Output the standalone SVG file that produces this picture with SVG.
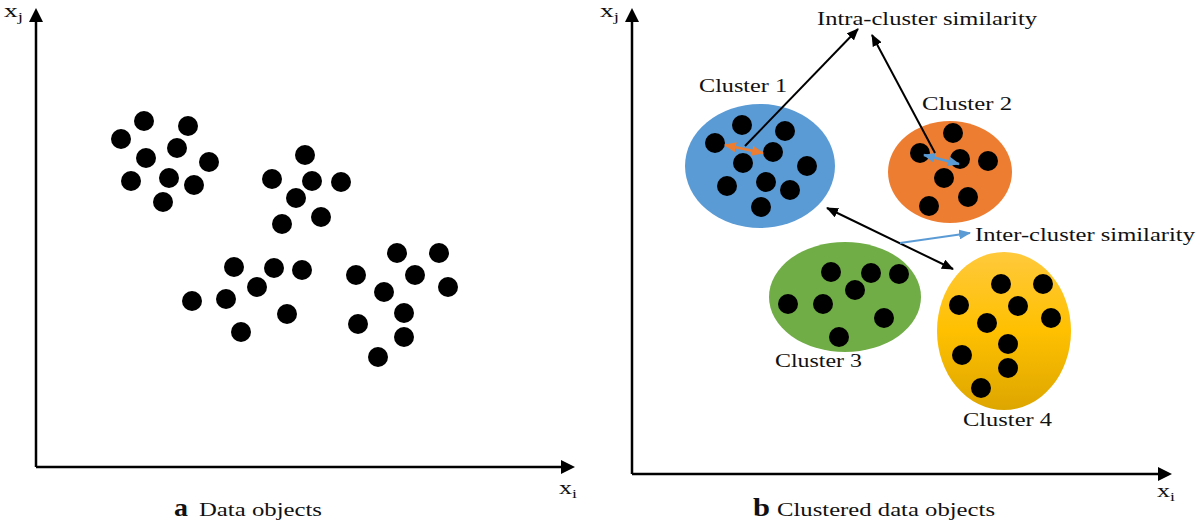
<svg xmlns="http://www.w3.org/2000/svg" width="1200" height="524" viewBox="0 0 1200 524">
<defs>
<style>
text{font-family:"Liberation Serif","Times New Roman",serif;fill:#111}
.ax{stroke:#000;stroke-width:2.5;fill:none}
.dot{fill:#000}
.lbl{font-size:18px}
.cap{font-size:18px}
.capb{font-size:26px;font-weight:bold}
.axl{font-size:19px}
.sub{font-size:13px}
.blk{stroke:#000;stroke-width:2;fill:none}
</style>
<marker id="ah" markerWidth="12" markerHeight="10" refX="11" refY="5" orient="auto-start-reverse" markerUnits="userSpaceOnUse"><path d="M0,0 L12,5 L0,10 Z" fill="#000"/></marker>
<marker id="axh" markerWidth="14" markerHeight="14" refX="2" refY="7" orient="auto" markerUnits="userSpaceOnUse"><path d="M0,0 L14,7 L0,14 Z" fill="#000"/></marker>
<marker id="oh" markerWidth="12" markerHeight="10" refX="11" refY="5" orient="auto-start-reverse" markerUnits="userSpaceOnUse"><path d="M0,0 L12,5 L0,10 Z" fill="#ED7D31"/></marker>
<marker id="bh" markerWidth="12" markerHeight="10" refX="11" refY="5" orient="auto-start-reverse" markerUnits="userSpaceOnUse"><path d="M0,0 L12,5 L0,10 Z" fill="#5B9BD5"/></marker>
<linearGradient id="yg" x1="0" y1="0" x2="0" y2="1"><stop offset="0" stop-color="#FFC93C"/><stop offset="0.5" stop-color="#FFC000"/><stop offset="1" stop-color="#DDA600"/></linearGradient>
</defs>

<g id="panel-a">
<g id="axes-a">
<path class="ax" d="M36,467 L36,20" marker-end="url(#axh)"/>
<path class="ax" d="M36,467 L563,467" marker-end="url(#axh)"/>
<text class="axl" x="4" y="17" textLength="19" lengthAdjust="spacingAndGlyphs">x<tspan class="sub" dy="4">j</tspan></text>
<text class="axl" x="559" y="494" textLength="18" lengthAdjust="spacingAndGlyphs">x<tspan class="sub" dy="4">i</tspan></text>
</g>
<g id="dots-a" class="dot">
<circle cx="144" cy="121" r="10"/><circle cx="188" cy="126" r="10"/><circle cx="121" cy="139" r="10"/><circle cx="177" cy="148" r="10"/><circle cx="146" cy="158" r="10"/><circle cx="209" cy="162" r="10"/><circle cx="131" cy="181" r="10"/><circle cx="169" cy="178" r="10"/><circle cx="194" cy="185" r="10"/><circle cx="163" cy="202" r="10"/>
<circle cx="305" cy="155" r="10"/><circle cx="272" cy="179" r="10"/><circle cx="312" cy="181" r="10"/><circle cx="341" cy="182" r="10"/><circle cx="296" cy="198" r="10"/><circle cx="321" cy="217" r="10"/><circle cx="282" cy="224" r="10"/>
<circle cx="234" cy="267" r="10"/><circle cx="274" cy="268" r="10"/><circle cx="302" cy="270" r="10"/><circle cx="257" cy="287" r="10"/><circle cx="192" cy="301" r="10"/><circle cx="226" cy="299" r="10"/><circle cx="287" cy="314" r="10"/><circle cx="241" cy="332" r="10"/>
<circle cx="397" cy="253" r="10"/><circle cx="439" cy="253" r="10"/><circle cx="356" cy="275" r="10"/><circle cx="415" cy="275" r="10"/><circle cx="448" cy="287" r="10"/><circle cx="384" cy="292" r="10"/><circle cx="404" cy="313" r="10"/><circle cx="358" cy="324" r="10"/><circle cx="404" cy="337" r="10"/><circle cx="378" cy="357" r="10"/>
</g>
<text class="capb" x="174" y="516" textLength="14" lengthAdjust="spacingAndGlyphs">a</text>
<text class="cap" x="199" y="516" textLength="123" lengthAdjust="spacingAndGlyphs">Data objects</text>
</g>

<g id="panel-b">
<g id="axes-b">
<path class="ax" d="M632,474 L632,20" marker-end="url(#axh)"/>
<path class="ax" d="M632,474 L1160,474" marker-end="url(#axh)"/>
<text class="axl" x="600" y="17" textLength="19" lengthAdjust="spacingAndGlyphs">x<tspan class="sub" dy="4">j</tspan></text>
<text class="axl" x="1157" y="497" textLength="18" lengthAdjust="spacingAndGlyphs">x<tspan class="sub" dy="4">i</tspan></text>
</g>

<g id="cluster1">
<ellipse cx="760" cy="166" rx="75" ry="62" fill="#5B9BD5"/>
<g class="dot"><circle cx="742" cy="125" r="10"/><circle cx="785" cy="131" r="10"/><circle cx="715" cy="143" r="10"/><circle cx="773" cy="152" r="10"/><circle cx="743" cy="163" r="10"/><circle cx="807" cy="166" r="10"/><circle cx="727" cy="186" r="10"/><circle cx="766" cy="182" r="10"/><circle cx="790" cy="190" r="10"/><circle cx="761" cy="207" r="10"/></g>
<text class="lbl" x="699" y="92" textLength="88" lengthAdjust="spacingAndGlyphs">Cluster 1</text>
</g>

<g id="cluster2">
<ellipse cx="950" cy="172" rx="62" ry="51" fill="#ED7D31"/>
<g class="dot"><circle cx="953" cy="133" r="10"/><circle cx="920" cy="153" r="10"/><circle cx="960" cy="159" r="10"/><circle cx="988" cy="161" r="10"/><circle cx="944" cy="178" r="10"/><circle cx="968" cy="197" r="10"/><circle cx="929" cy="206" r="10"/></g>
<text class="lbl" x="922" y="110" textLength="90" lengthAdjust="spacingAndGlyphs">Cluster 2</text>
</g>

<g id="cluster3">
<ellipse cx="845" cy="297" rx="76" ry="55" fill="#70AD47"/>
<g class="dot"><circle cx="831" cy="272" r="10"/><circle cx="871" cy="273" r="10"/><circle cx="899" cy="274" r="10"/><circle cx="855" cy="290" r="10"/><circle cx="788" cy="304" r="10"/><circle cx="823" cy="304" r="10"/><circle cx="884" cy="318" r="10"/><circle cx="839" cy="337" r="10"/></g>
<text class="lbl" x="775" y="367" textLength="87" lengthAdjust="spacingAndGlyphs">Cluster 3</text>
</g>

<g id="cluster4">
<ellipse cx="1004" cy="331" rx="67" ry="79" fill="url(#yg)"/>
<g class="dot"><circle cx="1001" cy="284" r="10"/><circle cx="1043" cy="284" r="10"/><circle cx="959" cy="305" r="10"/><circle cx="1018" cy="306" r="10"/><circle cx="1051" cy="318" r="10"/><circle cx="987" cy="323" r="10"/><circle cx="1008" cy="344" r="10"/><circle cx="962" cy="355" r="10"/><circle cx="1008" cy="368" r="10"/><circle cx="981" cy="388" r="10"/></g>
<text class="lbl" x="963" y="426" textLength="89" lengthAdjust="spacingAndGlyphs">Cluster 4</text>
</g>

<g id="labels-b">
<text class="lbl" x="817" y="25" textLength="220" lengthAdjust="spacingAndGlyphs">Intra-cluster similarity</text>
<text class="lbl" x="975" y="241" textLength="220" lengthAdjust="spacingAndGlyphs">Inter-cluster similarity</text>
<text class="capb" x="753" y="516" textLength="17" lengthAdjust="spacingAndGlyphs">b</text>
<text class="cap" x="777" y="516" textLength="218" lengthAdjust="spacingAndGlyphs">Clustered data objects</text>
</g>

<g id="connectors">
<path d="M725,145 L763,153" stroke="#ED7D31" stroke-width="2.5" marker-start="url(#oh)" marker-end="url(#oh)"/>
<path d="M924,155 L959,164" stroke="#5B9BD5" stroke-width="2.5" marker-start="url(#bh)" marker-end="url(#bh)"/>
<path class="blk" d="M745,146 L858,29" marker-end="url(#ah)"/>
<path class="blk" d="M935,153 L872,35" marker-end="url(#ah)"/>
<path class="blk" d="M827,208 L953,269" marker-start="url(#ah)" marker-end="url(#ah)"/>
<path d="M900,243 L970,233" stroke="#5B9BD5" stroke-width="2" fill="none" marker-end="url(#bh)"/>
</g>
</g>
</svg>
